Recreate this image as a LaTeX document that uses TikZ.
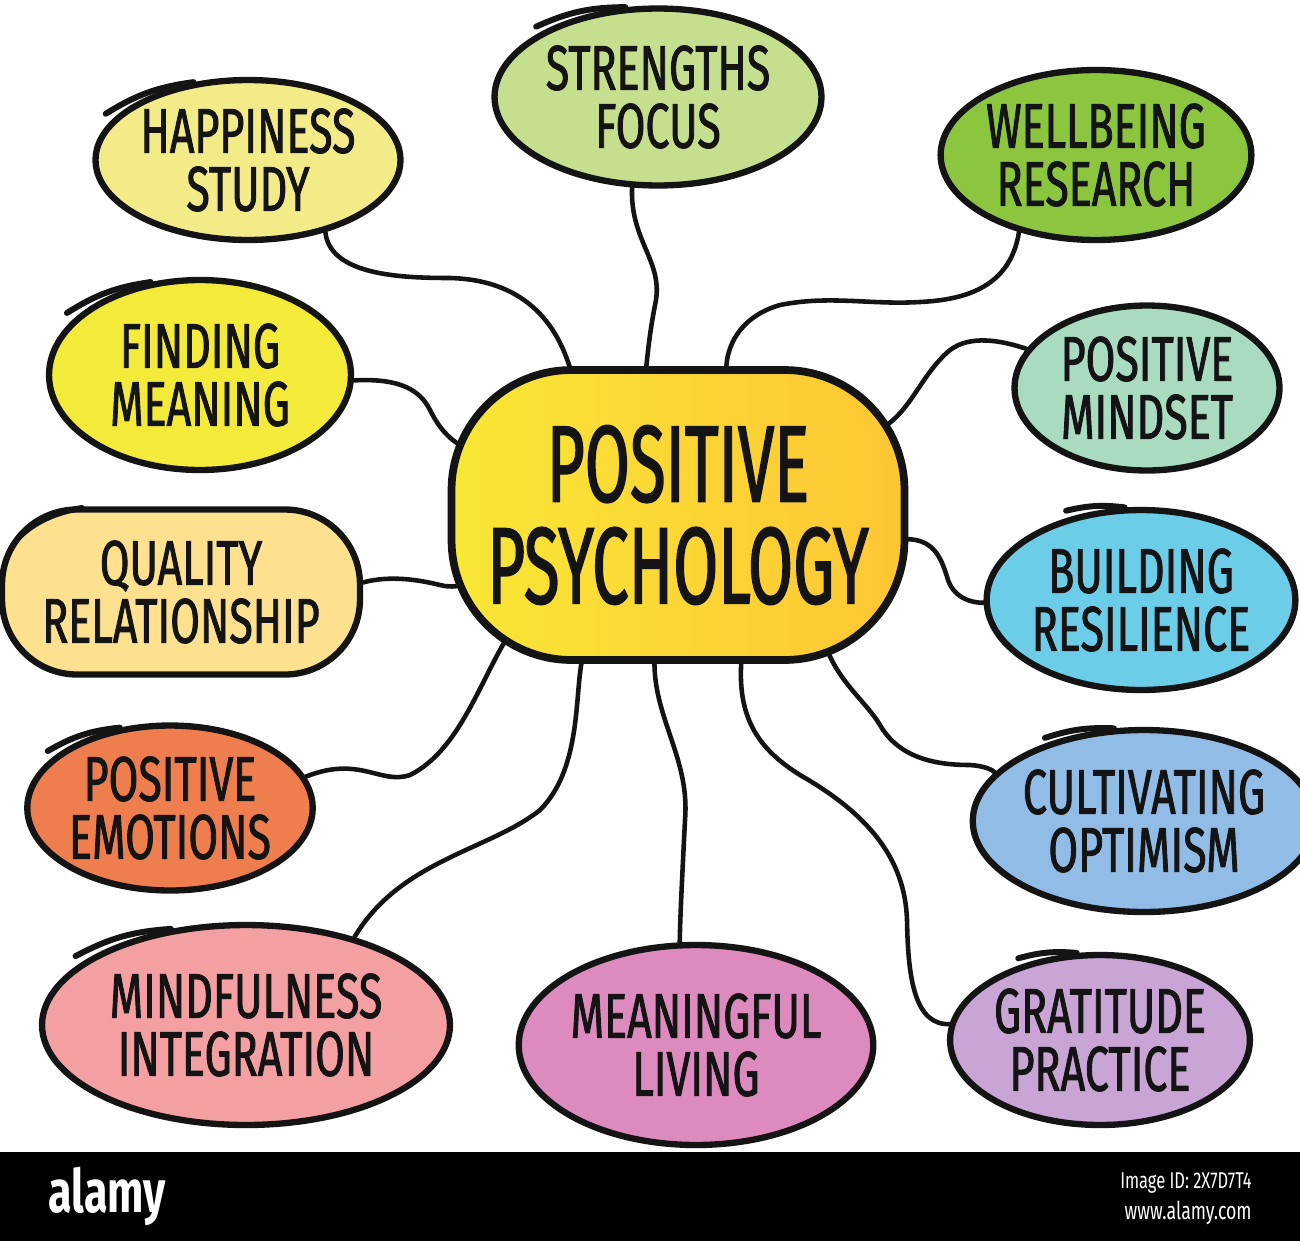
\documentclass[tikz,border=0pt]{standalone}
\usepackage{fontspec}
\setmainfont{Fira Sans}
\newfontfamily\hand[FakeStretch=0.68,FakeBold=1.3]{Fira Sans}
\newfontfamily\handbig[FakeStretch=0.6,FakeBold=1.3]{Fira Sans}
\newfontfamily\wmfont[FakeStretch=0.72]{Fira Sans}
\usetikzlibrary{shapes.geometric,backgrounds,calc}
\definecolor{ink}{HTML}{141414}
\definecolor{cHappy}{HTML}{F3EB87}
\definecolor{cStrength}{HTML}{C6DF8E}
\definecolor{cWell}{HTML}{8CC63F}
\definecolor{cFind}{HTML}{F4EA3A}
\definecolor{cMind}{HTML}{A9DBC0}
\definecolor{cQual}{HTML}{FDE18E}
\definecolor{cResil}{HTML}{6CCDE8}
\definecolor{cEmo}{HTML}{EE7E4E}
\definecolor{cOpt}{HTML}{90BCE6}
\definecolor{cMindful}{HTML}{F4A0A3}
\definecolor{cLiving}{HTML}{DD8BBF}
\definecolor{cGrat}{HTML}{C9A5D5}
\definecolor{cCenterL}{HTML}{F9E735}
\definecolor{cCenterR}{HTML}{FDC634}
\tikzset{
  blob/.style={ellipse, draw=ink, line width=3.6pt, inner sep=0pt, align=center,
    text=ink, font=\hand\fontsize{36}{33}\selectfont},
  rblob/.style={rectangle, draw=ink, line width=3.6pt, inner sep=0pt, align=center,
    text=ink, font=\hand\fontsize{36}{33}\selectfont},
  link/.style={draw=ink, line width=2.6pt, line cap=round},
  flick/.style={draw=ink, line width=3.4pt, line cap=round}
}
\begin{document}
\begin{tikzpicture}[x=0.02cm,y=-0.02cm]
\useasboundingbox (0,0) rectangle (1300,1241);

% central node
\node[rectangle, rounded corners=2.4cm, draw=ink, line width=4.4pt,
  minimum width=9.06cm, minimum height=5.8cm, left color=cCenterL, right color=cCenterR,
  align=center, text=ink, font=\handbig\fontsize{62}{58}\selectfont]
  (center) at (678,515) {POSITIVE\\PSYCHOLOGY};

% satellite nodes
\node[blob, fill=cHappy, minimum width=6.1cm, minimum height=3.2cm] (happy) at (248,160) {HAPPINESS\\STUDY};
\node[blob, fill=cStrength, minimum width=6.54cm, minimum height=3.54cm] (strength) at (658,97) {STRENGTHS\\FOCUS};
\node[blob, fill=cWell, minimum width=6.16cm, minimum height=3.4cm] (well) at (1096,155) {WELLBEING\\RESEARCH};
\node[blob, fill=cFind, minimum width=6.04cm, minimum height=3.8cm] (find) at (200,375) {FINDING\\MEANING};
\node[blob, fill=cMind, minimum width=5.3cm, minimum height=3.3cm] (mindset) at (1147,388) {POSITIVE\\MINDSET};
\node[rblob, rounded corners=1.5cm, fill=cQual, minimum width=7.16cm, minimum height=3.3cm] (quality) at (181,592) {QUALITY\\RELATIONSHIP};
\node[blob, fill=cResil, minimum width=5.94cm, minimum height=3.6cm] (resil) at (1141,600) {BUILDING\\RESILIENCE};
\node[blob, fill=cEmo, minimum width=5.68cm, minimum height=3.3cm] (emo) at (170,808) {POSITIVE\\EMOTIONS};
\node[blob, fill=cOpt, minimum width=6.04cm, minimum height=3.64cm] (opt) at (1144,821) {CULTIVATING\\OPTIMISM};
\node[blob, fill=cMindful, minimum width=8.16cm, minimum height=4.0cm] (mindful) at (246,1025) {MINDFULNESS\\INTEGRATION};
\node[blob, fill=cLiving, minimum width=6.64cm, minimum height=4.0cm] (living) at (696,1045) {MEANINGFUL\\LIVING};
\node[blob, fill=cGrat, minimum width=5.6cm, minimum height=3.4cm] (grat) at (1100,1040) {GRATITUDE\\PRACTICE};

% hand-drawn overshoot strokes
\draw[flick] ($(happy.center)!1.07!(happy.162)$) to[bend left=12] (happy.125);
\draw[flick] ($(strength.center)!1.06!(strength.150)$) to[bend left=12] (strength.110);
\draw[flick] ($(find.center)!1.07!(find.155)$) to[bend left=12] (find.118);
\draw[flick] (20,536) .. controls (35,522) and (55,512) .. (82,508);
\draw[flick] ($(emo.center)!1.07!(emo.155)$) to[bend left=12] (emo.122);
\draw[flick] ($(mindful.center)!1.06!(mindful.158)$) to[bend left=12] (mindful.128);
\draw[flick] ($(opt.center)!1.05!(opt.140)$) to[bend left=10] (opt.108);
\draw[flick] ($(resil.center)!1.07!(resil.130)$) to[bend left=10] (resil.100);
\draw[flick] ($(grat.center)!1.07!(grat.135)$) to[bend left=10] (grat.105);

% connectors and white page (behind nodes)
\begin{scope}[on background layer]
\fill[white] (0,0) rectangle (1300,1241);
\draw[link] (happy.-43) .. controls (330,275) and (400,278) .. (450,278)
  .. controls (530,280) and (560,330) .. ($(center.center)+(-106,-140)$);
\draw[link] (strength.-106) .. controls (630,240) and (662,260) .. (656,300)
  .. controls (650,330) and (648,350) .. (center.102);
\draw[link] (well.-135) .. controls (1010,290) and (960,300) .. (920,302)
  .. controls (870,305) and (830,295) .. (780,305)
  .. controls (745,315) and (728,340) .. (center.72);
\draw[link] (mindset.162) .. controls (1000,340) and (970,335) .. (950,350)
  .. controls (920,375) and (910,415) .. ($(center.center)+(200,-85)$);
\draw[link] (find.-2) .. controls (400,378) and (420,390) .. (430,410)
  .. controls (440,430) and (450,440) .. ($(center.center)+(-210,-65)$);
\draw[link] (quality.3) .. controls (390,575) and (420,580) .. (440,585)
  .. controls (452,588) and (460,586) .. ($(center.center)+(-210,68)$);
\draw[link] (resil.181) .. controls (975,603) and (955,600) .. (948,580)
  .. controls (942,560) and (935,540) .. (center.-6);
\draw[link] (emo.13) .. controls (360,755) and (380,785) .. (410,775)
  .. controls (460,750) and (480,680) .. ($(center.center)+(-168,118)$);
\draw[link] (opt.162) .. controls (993,770) and (985,766) .. (970,765)
  .. controls (940,765) and (900,760) .. (880,725)
  .. controls (865,700) and (835,680) .. ($(center.center)+(145,123)$);
\draw[link] (grat.174) .. controls (915,1025) and (908,980) .. (907,920)
  .. controls (905,860) and (870,815) .. (800,775)
  .. controls (760,750) and (738,720) .. (center.-67);
\draw[link] (living.99) .. controls (680,920) and (682,880) .. (685,820)
  .. controls (690,760) and (655,720) .. (center.-99);
\draw[link] (mindful.39) .. controls (400,860) and (490,850) .. (540,810)
  .. controls (580,770) and (575,700) .. (center.-123);
\end{scope}

% bottom bar
\fill[black] (0,1152) rectangle (1300,1241);
\node[text=white, font=\wmfont\bfseries\fontsize{34}{34}\selectfont, anchor=west, inner sep=0pt]
  (wmlogo) at (48,1196) {alamy};
\node[text=white, font=\wmfont\fontsize{13}{13}\selectfont, anchor=east, inner sep=0pt]
  (wmid) at (1252,1183) {Image ID: 2X7D7T4};
\node[text=white, font=\wmfont\fontsize{14}{14}\selectfont, anchor=east, inner sep=0pt]
  (wmurl) at (1252,1213) {www.alamy.com};
\end{tikzpicture}
\end{document}
